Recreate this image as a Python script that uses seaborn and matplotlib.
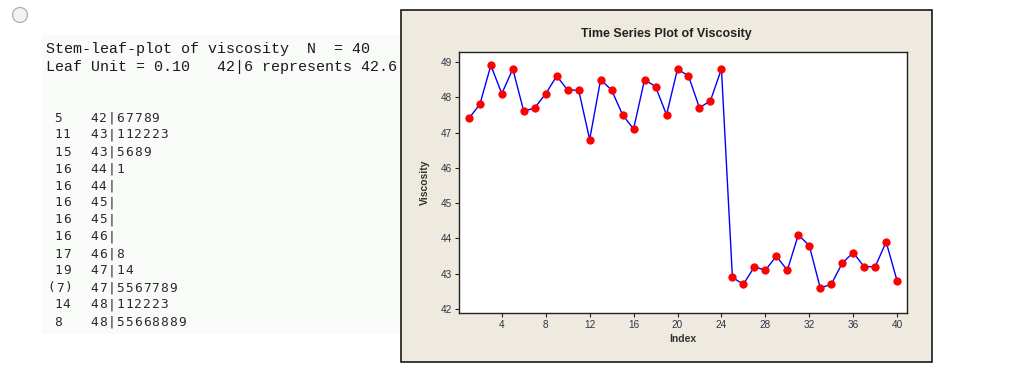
import numpy as np
import pandas as pd
import matplotlib
matplotlib.use("Agg")
import matplotlib.pyplot as plt
import seaborn as sns
from matplotlib.patches import Rectangle, Ellipse

# ── data ──────────────────────────────────────────────────────────────────────
index = list(range(1, 41))
viscosity = [47.4, 47.8, 48.9, 48.1, 48.8, 47.6, 47.7, 48.1, 48.6, 48.2,
             48.2, 46.8, 48.5, 48.2, 47.5, 47.1, 48.5, 48.3, 47.5, 48.8,
             48.6, 47.7, 47.9, 48.8, 42.9, 42.7, 43.2, 43.1, 43.5, 43.1,
             44.1, 43.8, 42.6, 42.7, 43.3, 43.6, 43.2, 43.2, 43.9, 42.8]

# stem-and-leaf display (depth, stem, leaves)
depths = ["5", "11", "15", "16", "16", "16", "16", "16", "17", "19", "(7)", "14", "8"]
stems = ["42", "43", "43", "44", "44", "45", "45", "46", "46", "47", "47", "48", "48"]
leaves = ["67789", "112223", "5689", "1", "", "", "", "", "8", "14",
          "5567789", "112223", "55668889"]
header_lines = ["Stem-leaf-plot of viscosity  N  = 40",
                "Leaf Unit = 0.10   42|6 represents 42.6"]

x_ticks = [4, 8, 12, 16, 20, 24, 28, 32, 36, 40]
y_ticks = [42, 43, 44, 45, 46, 47, 48, 49]

df = pd.DataFrame({"Index": index, "Viscosity": viscosity})

# ── figure ────────────────────────────────────────────────────────────────────
sns.set_style("ticks")
plt.rcParams["font.family"] = ["Liberation Sans", "DejaVu Sans"]

W, H = 1012, 373
fig = plt.figure(figsize=(W / 100, H / 100), dpi=100)
fig.patch.set_facecolor("white")

def fx(px):
    return px / W

def fy(py):
    return 1 - py / H

def spaced(x0, y0, s, pitch=8.8, **kw):
    # monospace row with wide letter spacing
    for k, ch in enumerate(s):
        if ch != " ":
            fig.text(fx(x0 + k * pitch), fy(y0), ch, ha="left", va="center", **kw)

# radio button
fig.patches.append(Ellipse((fx(20), fy(15)), 15 / W, 15 / H, transform=fig.transFigure,
                           facecolor="#f2f2f2", edgecolor="#b0b0b0", lw=0.9, zorder=-2))
# faint text area background
fig.patches.append(Rectangle((fx(42), fy(334)), fx(400 - 42), 299 / H,
                             transform=fig.transFigure, facecolor="#f9fbf9",
                             edgecolor="none", zorder=-2))

# stem-leaf text
for i, line in enumerate(header_lines):
    fig.text(fx(46), fy(49 + 18 * i), line, family="Liberation Mono",
             fontsize=10.8, color="#1a1a1a", va="center", ha="left")
row_kw = dict(family="DejaVu Sans Mono", fontsize=9.3, color="#2a2a2a")
for i, (d, s, l) in enumerate(zip(depths, stems, leaves)):
    yy = 118 + 17 * i
    dx = 47 if d.startswith("(") else 54
    spaced(dx, yy, d, **row_kw)
    spaced(90, yy, f"{s}|{l}", **row_kw)

# Minitab-style panel
fig.patches.append(Rectangle((fx(401), fy(362)), 531 / W, 352 / H,
                             transform=fig.transFigure, facecolor="#eeeae0",
                             edgecolor="#1a1a1a", lw=1.2, zorder=-1))

ax = fig.add_axes([fx(459), fy(313), 448 / W, 261 / H])
ax.set_facecolor("white")
sns.lineplot(data=df, x="Index", y="Viscosity", ax=ax, color="#0000ff", lw=1,
             marker="o", markersize=5.2, markerfacecolor="#ff0000",
             markeredgecolor="#ff0000")

ax.set_xlim(0.1, 40.9)
ax.set_ylim(41.89, 49.28)
ax.set_xticks(x_ticks)
ax.set_yticks(y_ticks)
for sp in ax.spines.values():
    sp.set_visible(True)
    sp.set_color("#222222")
    sp.set_linewidth(1)
ax.tick_params(length=3, width=0.8, color="#222222", labelsize=7.2,
               labelcolor="#333344", pad=2)
ax.set_xlabel("Index", fontsize=7.5, fontweight="bold", color="#333333", labelpad=3)
ax.set_ylabel("Viscosity", fontsize=7.5, fontweight="bold", color="#333333", labelpad=8)

fig.text(fx(666), fy(34), "Time Series Plot of Viscosity", fontsize=9,
         fontweight="bold", color="#222222", ha="center", va="center")

fig.savefig("out.png", dpi=100)
